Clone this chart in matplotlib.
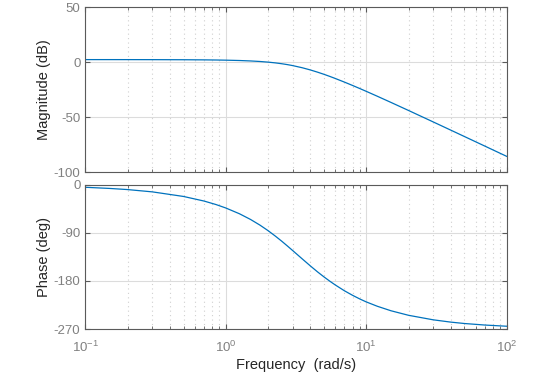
import numpy as np
import matplotlib
matplotlib.use("Agg")
import matplotlib.pyplot as plt
from matplotlib.ticker import LogLocator, NullFormatter

plt.rcParams['font.family'] = ['Liberation Sans', 'DejaVu Sans']
plt.rcParams['mathtext.fontset'] = 'custom'
plt.rcParams['mathtext.rm'] = 'Liberation Sans'
plt.rcParams['mathtext.it'] = 'Liberation Sans:italic'
plt.rcParams['axes.unicode_minus'] = False

# values
freq = [0.1, 0.15, 0.2, 0.3, 0.5, 0.7, 0.85, 1.0, 1.25, 1.5, 1.75, 2.0, 2.25,
        2.5, 2.75, 3.0, 3.5, 4.0, 4.5, 5.0, 5.5, 6.0, 7.0, 8.0, 9.0, 10.0,
        12.0, 15.0, 20.0, 30.0, 40.0, 50.0, 70.0, 100.0]
mag_db = [2.44, 2.44, 2.43, 2.40, 2.32, 2.20, 2.08, 1.93, 1.62, 1.22, 0.73,
          0.15, -0.53, -1.30, -2.13, -3.03, -4.95, -6.96, -8.97, -10.93,
          -12.83, -14.65, -18.03, -21.09, -23.87, -26.41, -30.89, -36.48,
          -43.80, -54.24, -61.69, -67.48, -76.23, -85.52]
phase_deg = [-4.3, -6.5, -8.6, -12.9, -21.5, -30.1, -36.6, -43.1, -53.9,
             -64.6, -75.2, -85.6, -95.7, -105.3, -114.5, -123.1, -138.5,
             -151.7, -162.9, -172.3, -180.3, -187.2, -198.4, -206.9, -213.7,
             -219.2, -227.4, -235.8, -244.3, -252.8, -257.1, -259.7, -262.6,
             -264.8]

mag_ticks = [50, 0, -50, -100]
phase_ticks = [0, -90, -180, -270]

line_color = '#0072BD'
axis_gray = '#5a5a5a'
label_gray = '#808080'

fig = plt.figure(figsize=(5.6, 3.76), dpi=100)
ax1 = fig.add_axes([0.1524, 0.5418, 0.7524, 0.4388])
ax2 = fig.add_axes([0.1524, 0.125, 0.7524, 0.383])


def style(ax):
    ax.set_xscale('log')
    ax.set_xlim(0.1, 100)
    ax.xaxis.set_minor_locator(LogLocator(base=10, subs=np.arange(2, 10)))
    ax.xaxis.set_minor_formatter(NullFormatter())
    ax.grid(True, which='major', color='#dcdcdc', linewidth=0.8, linestyle='-')
    ax.grid(True, which='minor', axis='x', color='#d0d0d0', linewidth=0.8,
            linestyle=(0, (1, 3)))
    ax.set_axisbelow(True)
    for s in ax.spines.values():
        s.set_color(axis_gray)
        s.set_linewidth(0.8)
    ax.tick_params(which='both', direction='in', top=True, right=True,
                   colors=axis_gray, labelcolor=label_gray, labelsize=9.5)
    ax.tick_params(which='major', length=3.5)
    ax.tick_params(which='minor', length=2)


ax1.plot(freq, mag_db, color=line_color, linewidth=0.9)
style(ax1)
ax1.set_ylim(-100, 50)
ax1.set_yticks(mag_ticks)
ax1.tick_params(labelbottom=False)
ax1.set_ylabel('Magnitude (dB)', fontsize=10.5, color='#262626', labelpad=2)

ax2.plot(freq, phase_deg, color=line_color, linewidth=0.9)
style(ax2)
ax2.set_ylim(-270, 0)
ax2.set_yticks(phase_ticks)
ax2.tick_params(axis='x', which='major', pad=8)
ax2.set_ylabel('Phase (deg)', fontsize=10.5, color='#262626', labelpad=2)
ax2.set_xlabel('Frequency  (rad/s)', fontsize=10.5, color='#262626', labelpad=2)

fig.savefig('out.png', dpi=100)
